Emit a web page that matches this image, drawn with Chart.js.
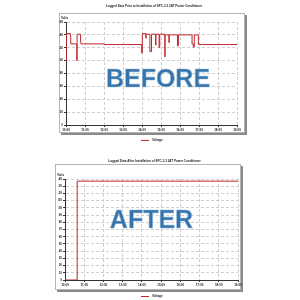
<!DOCTYPE html>
<html>
<head>
<meta charset="utf-8">
<script src="https://cdn.jsdelivr.net/npm/chart.js@4/dist/chart.umd.min.js"></script>
<style>
html, body { margin: 0; padding: 0; background: #fff; }
.wrap { position: absolute; left: 0; width: 300px; height: 150px; }
</style>
</head>
<body>
<div class="wrap" style="top:0"><canvas id="beforeChart"></canvas></div>
<div class="wrap" style="top:150px"><canvas id="afterChart"></canvas></div>
<script>
// x axis is minutes after 10:00
const hourLabels = ['10:00', '11:00', '12:00', '13:00', '14:00', '15:00', '16:00', '17:00', '18:00', '19:00'];

const beforeMinutes = [0, 1, 14, 15, 34, 35, 46, 47, 120, 239, 241, 252, 253, 265, 270, 283, 284, 294, 296, 312, 313, 325, 326, 352, 355, 398, 402, 405, 418, 540];
const beforeVolts   = [100, 142, 138, 126, 100, 141, 130, 126, 125, 112, 142, 135, 141, 114, 141, 124, 141, 120, 141, 106, 140, 128, 140, 123, 140, 126, 121, 140, 125, 125];

const afterMinutes = [0, 38, 540];
const afterVolts   = [0, 137, 137];

const seriesLabel = 'Voltage';
const beforeTitle = 'Logged Data Prior to Installation of SPC-3.3 2AT Power Conditioner';
const afterTitle = 'Logged Data After Installation of SPC-3.3 2AT Power Conditioner';

const lineRed = '#c0272d';

const panelPlugin = {
    id: 'panel',
    beforeDraw(chart, args, opts) {
        const ctx = chart.ctx;
        const a = chart.chartArea;
        const x0 = a.left - opts.frame[0];
        const y0 = a.top - opts.frame[1];
        const w = (a.right + opts.frame[2]) - x0;
        const h = (a.bottom + opts.frame[3]) - y0;
        ctx.save();
        // frame with drop shadow
        ctx.fillStyle = '#8a8a8a';
        ctx.fillRect(x0 + 2, y0 + 2, w, h);
        ctx.fillStyle = '#fff';
        ctx.fillRect(x0, y0, w, h);
        ctx.strokeStyle = '#b4b4b4';
        ctx.lineWidth = 1;
        ctx.strokeRect(x0 + 0.5, y0 + 0.5, w - 1, h - 1);
        // title
        ctx.fillStyle = '#222';
        ctx.font = 'bold 3px "Liberation Sans"';
        ctx.textAlign = 'center';
        ctx.textBaseline = 'middle';
        ctx.fillText(opts.title, opts.titleX, opts.titleY);
        // unit label
        ctx.textAlign = 'left';
        ctx.fillText('Volts', x0 + 2, a.top - 4);
        // legend
        ctx.strokeStyle = lineRed;
        ctx.beginPath();
        ctx.moveTo(141, opts.legendY + 0.5);
        ctx.lineTo(149, opts.legendY + 0.5);
        ctx.stroke();
        ctx.fillText(seriesLabel, 152, opts.legendY + 0.5);
        ctx.restore();
    },
    afterDraw(chart, args, opts) {
        const ctx = chart.ctx;
        ctx.save();
        ctx.font = 'bold 25px "Liberation Sans"';
        ctx.textAlign = 'center';
        ctx.textBaseline = 'alphabetic';
        ctx.fillStyle = '#3573ab';
        ctx.fillText(opts.mark, opts.markX, opts.markY + 9);
        ctx.strokeStyle = 'rgba(150, 185, 220, 0.9)';
        ctx.lineWidth = 0.6;
        ctx.strokeText(opts.mark, opts.markX, opts.markY + 9);
        ctx.restore();
    }
};

function makeConfig(minutes, volts, yMax, yStep, padding, panel) {
    return {
        type: 'line',
        data: {
            datasets: [{
                label: seriesLabel,
                data: minutes.map((m, i) => ({ x: m, y: volts[i] })),
                borderColor: lineRed,
                borderWidth: 1,
                pointRadius: 0,
                stepped: true,
                fill: false
            }]
        },
        options: {
            responsive: true,
            maintainAspectRatio: false,
            animation: false,
            layout: { padding: padding },
            plugins: {
                legend: { display: false },
                title: { display: false },
                tooltip: { enabled: false },
                panel: panel
            },
            scales: {
                x: {
                    type: 'linear',
                    min: 0,
                    max: 540,
                    ticks: {
                        stepSize: 60,
                        autoSkip: false,
                        maxRotation: 0,
                        padding: 1,
                        color: '#222',
                        font: { size: 3, weight: 'bold', family: 'Liberation Sans' },
                        callback: (v) => hourLabels[v / 60]
                    },
                    grid: { color: '#cfcfcf', tickLength: 2, tickColor: '#333' },
                    border: { color: '#333', width: 1, dash: [3, 2] },
                    afterFit(s) { s.height = 8; }
                },
                y: {
                    min: 0,
                    max: yMax,
                    ticks: {
                        stepSize: yStep,
                        padding: 1,
                        color: '#222',
                        font: { size: 3, weight: 'bold', family: 'Liberation Sans' }
                    },
                    grid: { color: '#cfcfcf', tickLength: 2, tickColor: '#333' },
                    border: { color: '#333', width: 1, dash: [3, 2] },
                    afterFit(s) { s.width = 7; }
                }
            }
        },
        plugins: [panelPlugin]
    };
}

new Chart(document.getElementById('beforeChart'),
    makeConfig(beforeMinutes, beforeVolts, 160, 20,
        { left: 59, right: 63, top: 22, bottom: 17 },
        { frame: [7, 9, 8, 8], title: beforeTitle, titleX: 154, titleY: 6, legendY: 140, mark: 'BEFORE', markX: 158, markY: 77.5 }));

new Chart(document.getElementById('afterChart'),
    makeConfig(afterMinutes, afterVolts, 140, 10,
        { left: 58, right: 62, top: 29, bottom: 12 },
        { frame: [10, 15, 3, 10], title: afterTitle, titleX: 154.5, titleY: 11, legendY: 146, mark: 'AFTER', markX: 151.5, markY: 69 }));
</script>
</body>
</html>
